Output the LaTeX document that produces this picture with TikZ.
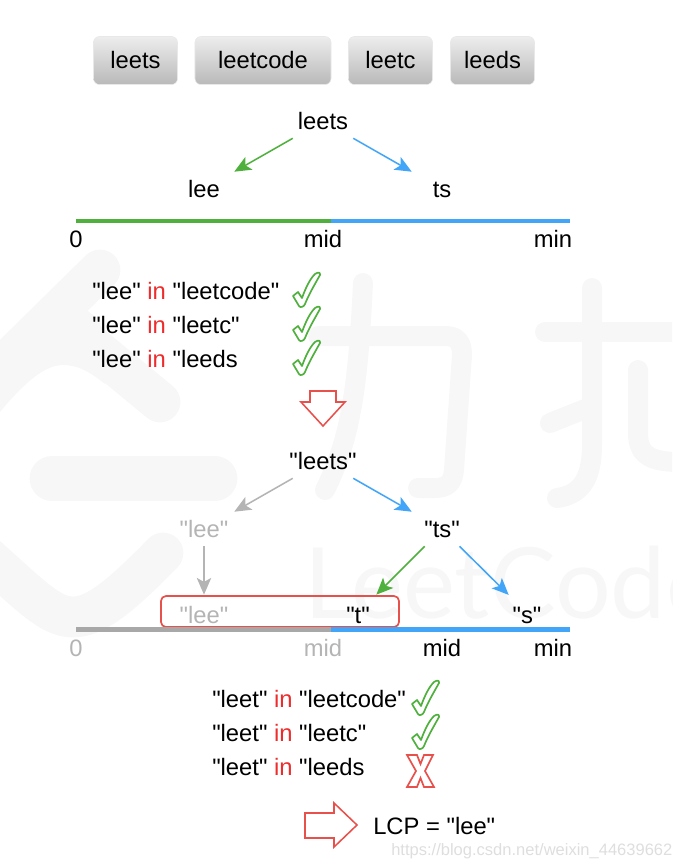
\documentclass[tikz,border=0pt]{standalone}
\usepackage{fontspec}
\newfontfamily\labelfont{Liberation Sans}
\newfontfamily\markfont{Lato}
\usetikzlibrary{arrows.meta}
\definecolor{okgreen}{HTML}{4FB03E}
\definecolor{barblue}{HTML}{42A5F8}
\definecolor{fadegray}{HTML}{B4B4B4}
\definecolor{bargray}{HTML}{A8A8A8}
\definecolor{boxred}{HTML}{E8504C}
\definecolor{inred}{HTML}{EE2C2C}
\definecolor{markgray}{HTML}{F7F7F7}
\definecolor{urlgray}{HTML}{DEDEDE}
\newcommand{\inword}{{\color{inred}in}}
\tikzset{
  every node/.style={font=\labelfont\fontsize{16.9}{20}\selectfont},
  wordbox/.style={rounded corners=0.15cm,draw=gray!18,top color=gray!14,bottom color=gray!55,minimum height=1.2cm,inner sep=0,text height=0.42cm,text depth=0},
  treelbl/.style={minimum width=1.5cm,minimum height=0.85cm,inner sep=0,text height=0.4cm,text depth=0},
  barlbl/.style={minimum width=0.9cm,minimum height=0.9cm,inner sep=0,text height=0.5cm,text depth=0},
  strline/.style={anchor=base west,inner sep=0},
  ticklbl/.style={anchor=base,inner sep=0},
  wmline/.style={draw=markgray,line width=0.5cm,line cap=round,line join=round},
  logoline/.style={wmline,line width=1.02cm},
  tick/.pic={\draw[okgreen,line width=1.2pt,fill=white,line join=round] (0,24) -- (5,20) -- (9,26) .. controls (13,15) and (17,7) .. (22,2) .. controls (25,0) and (27.5,0) .. (27,3) .. controls (22,12) and (16,22) .. (12,32) .. controls (11,35) and (7,36) .. (6,34) -- cycle;},
  cross/.pic={\draw[boxred,line width=1.2pt,fill=white] (0,0) -- (10,0) -- (13.5,9) -- (17,0) -- (26,0) -- (18,16) -- (27,32) -- (17,32) -- (13.5,23) -- (10,32) -- (0,32) -- (9,16) -- cycle;}
}

\begin{document}
\begin{tikzpicture}[x=0.025cm,y=-0.025cm,>={Stealth[length=0.42cm,width=0.36cm,inset=0.1cm]}]
  \useasboundingbox (0,0) rectangle (672,868);
  % watermark
  \begin{scope}
    \clip (0,0) rectangle (672,868);
    \draw[logoline] (100,270) -- (-30,398);
    \draw[logoline] (160,402) -- (75,332);
    \fill[markgray] (0,412) .. controls (25,382) and (45,365) .. (63,365) .. controls (78,365) and (90,372) .. (105,384) -- (100,320) -- (60,290) -- (0,360) -- cycle;
    \draw[logoline,line width=1.12cm] (52,478.5) -- (215,478.5);
    \draw[logoline] (163,553) .. controls (120,597) and (95,617) .. (73,617) .. controls (50,617) and (30,595) .. (-15,555);
    \draw[wmline] (363,283) .. controls (358,390) and (350,440) .. (325,490);
    \draw[wmline] (318,336) -- (445,336) .. controls (458,336) and (462,343) .. (462,355) -- (454,470) .. controls (453,482) and (448,488) .. (435,488) -- (418,488);
    \draw[wmline] (545,332) -- (680,332);
    \draw[wmline] (592,288) -- (592,445) .. controls (592,480) and (580,495) .. (557,498);
    \draw[wmline] (550,423) -- (590,407);
    \draw[wmline] (638,370) -- (638,433) .. controls (638,455) and (650,462) .. (680,462);
    \node[inner sep=0,anchor=base west,text=markgray,font=\markfont\fontsize{70}{70}\selectfont] (wmtext) at (304,618) {LeetCode};
  \end{scope}
  % word boxes
  \node[wordbox,minimum width=2.1cm] (w1) at (135.5,60.5) {leets};
  \node[wordbox,minimum width=3.4cm] (w2) at (263,60.5) {leetcode};
  \node[wordbox,minimum width=2.1cm] (w3) at (390.5,60.5) {leetc};
  \node[wordbox,minimum width=2.1cm] (w4) at (492.5,60.5) {leeds};
  % first split
  \node[treelbl] (top) at (323,121) {leets};
  \node[treelbl] (left) at (204,189) {lee};
  \node[treelbl] (right) at (442,189) {ts};
  \draw[->,okgreen,line width=1.1pt] (top) -- (left);
  \draw[->,barblue,line width=1.1pt] (top) -- (right);
  \draw[okgreen,line width=3.5pt] (76,221) -- (331,221);
  \draw[barblue,line width=3.5pt] (331,221) -- (570,221);
  \node[ticklbl] (zero) at (76,247) {0};
  \node[ticklbl] (midone) at (323,247) {mid};
  \node[ticklbl] (minone) at (553,247) {min};
  \node[strline] (a1) at (92,299) {"lee" \inword{} "leetcode"};
  \node[strline] (a2) at (92,333) {"lee" \inword{} "leetc"};
  \node[strline] (a3) at (92,367) {"lee" \inword{} "leeds};
  \foreach \y in {272,306,340} {\pic at (293,\y) {tick};}
  \draw[boxred,line width=1.1pt,fill=white] (310,391) -- (336,391) -- (336,402) -- (345,402) -- (323,426) -- (301,402) -- (310,402) -- cycle;
  % second split
  \node[treelbl] (toptwo) at (323,461) {"leets"};
  \node[treelbl,text=fadegray] (lefttwo) at (204,529) {"lee"};
  \node[treelbl] (righttwo) at (442,529) {"ts"};
  \node[barlbl,text=fadegray] (keep) at (204,613) {"lee"};
  \node[barlbl] (t) at (358,613) {"t"};
  \node[barlbl] (s) at (527,613) {"s"};
  \node[draw=boxred,line width=1.2pt,rounded corners=0.125cm,minimum width=5.95cm,minimum height=0.775cm,inner sep=0] (hit) at (280,611.5) {};
  \draw[->,fadegray,line width=1.1pt] (toptwo) -- (lefttwo);
  \draw[->,barblue,line width=1.1pt] (toptwo) -- (righttwo);
  \draw[->,fadegray,line width=1.1pt] (lefttwo) -- (keep);
  \draw[->,okgreen,line width=1.1pt] (righttwo) -- (t);
  \draw[->,barblue,line width=1.1pt] (righttwo) -- (s);
  \draw[bargray,line width=3.5pt] (76,629.5) -- (331,629.5);
  \draw[barblue,line width=3.5pt] (331,629.5) -- (570,629.5);
  \node[ticklbl,text=fadegray] (zerotwo) at (76,656) {0};
  \node[ticklbl,text=fadegray] (midtwo) at (323,656) {mid};
  \node[ticklbl] (midnew) at (442,656) {mid};
  \node[ticklbl] (mintwo) at (553,656) {min};
  \node[strline] (b1) at (212,707) {"leet" \inword{} "leetcode"};
  \node[strline] (b2) at (212,741) {"leet" \inword{} "leetc"};
  \node[strline] (b3) at (212,775) {"leet" \inword{} "leeds};
  \foreach \y in {680,714} {\pic at (412,\y) {tick};}
  \pic at (407,755) {cross};
  \draw[boxred,line width=1.1pt,fill=white] (305,813) -- (334,813) -- (334,803) -- (357,825) -- (334,847) -- (334,838) -- (305,838) -- cycle;
  \node[strline] (lcp) at (373,834) {LCP = "lee"};
  \node[inner sep=0,anchor=base west,text=urlgray,font=\labelfont\fontsize{11.75}{14}\selectfont] (url) at (391,855) {https://blog.csdn.net/weixin\_44639662};
\end{tikzpicture}
\end{document}
